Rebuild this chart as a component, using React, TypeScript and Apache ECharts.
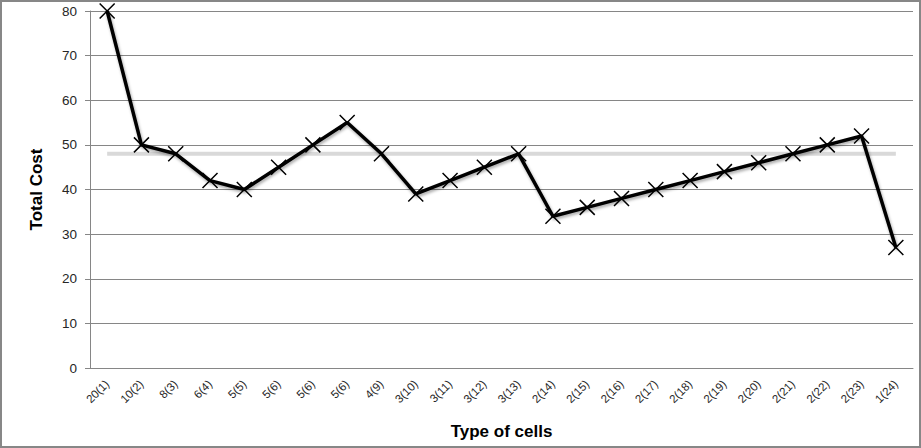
import React, { useEffect, useRef } from 'react';
import * as echarts from 'echarts';

const categories = [
  '20(1)', '10(2)', '8(3)', '6(4)', '5(5)', '5(6)', '5(6)', '5(6)', '4(9)', '3(10)', '3(11)', '3(12)',
  '3(13)', '2(14)', '2(15)', '2(16)', '2(17)', '2(18)', '2(19)', '2(20)', '2(21)', '2(22)', '2(23)', '1(24)',
];
const totalCost = [80, 50, 48, 42, 40, 45, 50, 55, 48, 39, 42, 45, 48, 34, 36, 38, 40, 42, 44, 46, 48, 50, 52, 27];
const referenceLevel = categories.map(() => 48);
const yTicks = [0, 10, 20, 30, 40, 50, 60, 70, 80];

const FONT = '"Liberation Sans", Arial, sans-serif';

const App: React.FC = () => {
  const chartRef = useRef<HTMLDivElement>(null);

  useEffect(() => {
    document.body.style.margin = '0';
    if (!chartRef.current) return;
    const chart = echarts.init(chartRef.current, undefined, { renderer: 'svg' });

    chart.setOption({
      animation: false,
      backgroundColor: '#fff',
      textStyle: { fontFamily: FONT },
      graphic: [
        {
          type: 'rect',
          shape: { x: 1, y: 1, width: 919, height: 446 },
          style: { fill: 'none', stroke: '#878787', lineWidth: 2 },
          silent: true,
        },
      ],
      grid: { left: 90, right: 8, top: 11, bottom: 80 },
      xAxis: {
        type: 'category',
        data: categories,
        name: 'Type of cells',
        nameLocation: 'middle',
        nameGap: 55,
        nameTextStyle: { fontSize: 17, fontWeight: 'bold', color: '#000', fontFamily: FONT },
        axisLine: { lineStyle: { color: '#868686', width: 1 } },
        axisTick: { show: false },
        axisLabel: { rotate: 45, fontSize: 11.5, color: '#262626', margin: 14, interval: 0, fontFamily: FONT },
      },
      yAxis: {
        type: 'value',
        min: yTicks[0],
        max: yTicks[yTicks.length - 1],
        interval: 10,
        name: 'Total Cost',
        nameLocation: 'middle',
        nameGap: 45,
        nameTextStyle: { fontSize: 17, fontWeight: 'bold', color: '#000', fontFamily: FONT },
        axisLine: { show: true, lineStyle: { color: '#868686', width: 1 } },
        axisTick: { show: true, length: 5, lineStyle: { color: '#868686' } },
        axisLabel: { fontSize: 13.5, color: '#262626', margin: 13, fontFamily: FONT },
        splitLine: { lineStyle: { color: '#868686', width: 1 } },
      },
      series: [
        {
          name: 'Level',
          type: 'line',
          data: referenceLevel,
          symbol: 'none',
          lineStyle: { color: '#d9d9d9', width: 4 },
          z: 1,
        },
        {
          name: 'Total Cost',
          type: 'line',
          data: totalCost,
          symbol: 'path://M0,0L10,10M10,0L0,10',
          symbolSize: 15,
          itemStyle: { color: '#000', borderColor: '#000', borderWidth: 1.5 },
          lineStyle: {
            color: '#000',
            width: 3.5,
            shadowColor: 'rgba(0,0,0,0.35)',
            shadowBlur: 3,
            shadowOffsetX: 1,
            shadowOffsetY: 2,
          },
          z: 2,
        },
      ],
    });

    return () => {
      chart.dispose();
    };
  }, []);

  return <div ref={chartRef} style={{ width: 921, height: 448 }} />;
};

export default App;
